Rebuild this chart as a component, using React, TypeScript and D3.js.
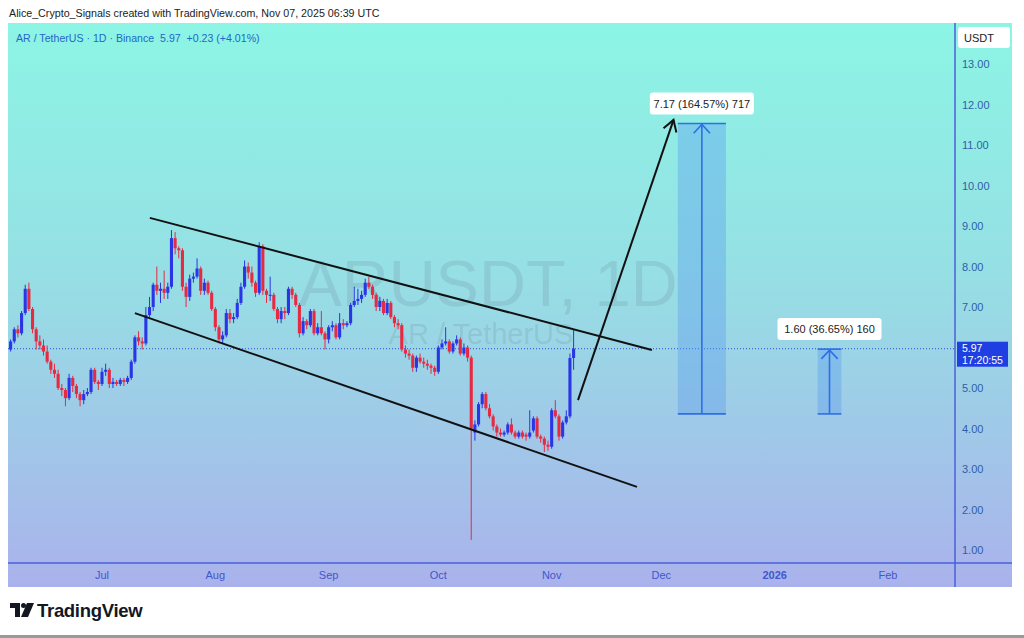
import React from 'react';
import * as d3 from 'd3';

// ---- data ----
const firstCandleDay = '2025-06-06';
// [open, high, low, close] daily, AR/USDT
const candles: [number, number, number, number][] = [
  [5.95,6.2,5.9,6.15],[6.15,6.5,6.1,6.45],[6.45,6.55,6.25,6.35],[6.35,6.9,6.3,6.85],[6.85,7.55,6.8,7.45],
  [7.45,7.6,6.9,6.95],[6.95,7.0,6.35,6.45],[6.45,6.5,5.95,6.15],[6.15,6.3,5.95,6.05],[6.05,6.2,5.8,5.9],
  [5.9,6.05,5.6,5.65],[5.65,5.7,5.35,5.45],[5.45,5.6,5.25,5.35],[5.35,5.45,4.95,5.0],[5.0,5.1,4.8,4.95],
  [4.95,5.0,4.55,4.75],[4.75,5.35,4.7,5.25],[5.25,5.3,4.9,5.05],[5.05,5.1,4.75,4.85],[4.85,4.9,4.55,4.7],
  [4.7,4.95,4.6,4.85],[4.85,5.0,4.8,4.9],[4.9,5.5,4.85,5.45],[5.45,5.5,5.1,5.15],[5.15,5.2,4.95,5.1],
  // Jul
  [5.1,5.5,5.05,5.4],[5.4,5.6,5.3,5.45],[5.45,5.5,5.0,5.1],[5.1,5.25,5.0,5.15],[5.15,5.2,5.05,5.1],
  [5.1,5.25,5.05,5.2],[5.2,5.25,5.05,5.15],[5.15,5.3,5.1,5.25],[5.25,5.7,5.2,5.65],[5.65,6.3,5.6,6.25],
  [6.25,6.4,6.05,6.15],[6.15,6.25,5.95,6.1],[6.1,7.0,6.05,6.8],[6.8,7.25,6.75,7.0],[7.0,7.6,6.9,7.55],
  [7.55,8.0,7.3,7.4],[7.4,7.6,7.1,7.45],[7.45,7.9,7.2,7.35],[7.35,7.6,7.2,7.5],[7.5,8.9,7.45,8.7],
  [8.7,8.85,8.3,8.45],[8.45,8.5,8.2,8.4],[8.4,8.45,7.4,7.5],[7.5,7.6,7.0,7.25],[7.25,7.8,7.15,7.7],
  [7.7,7.85,7.6,7.75],[7.75,8.2,7.7,7.95],[7.95,8.0,7.3,7.4],[7.4,7.7,7.3,7.6],[7.6,7.65,7.3,7.35],
  [7.35,7.4,6.9,6.95],
  // Aug
  [6.95,7.0,6.4,6.5],[6.5,6.55,6.1,6.2],[6.2,6.4,6.1,6.3],[6.3,6.95,6.25,6.85],[6.85,6.95,6.6,6.7],
  [6.7,6.85,6.6,6.75],[6.75,7.2,6.7,7.1],[7.1,7.6,7.05,7.5],[7.5,8.15,7.45,8.0],[8.0,8.1,7.7,7.85],
  [7.85,8.0,7.5,7.6],[7.6,7.65,7.25,7.35],[7.35,8.6,7.3,8.5],[8.5,8.55,7.3,7.4],[7.4,7.45,7.1,7.3],
  [7.3,7.75,7.15,7.3],[7.3,7.35,6.9,6.95],[6.95,7.0,6.6,6.7],[6.7,7.0,6.6,6.9],[6.9,7.0,6.7,6.85],
  [6.85,7.5,6.8,7.45],[7.45,7.5,7.2,7.3],[7.3,7.35,7.0,7.05],[7.05,7.1,6.25,6.35],[6.35,6.75,6.3,6.65],
  [6.65,6.7,6.45,6.55],[6.55,6.95,6.5,6.9],[6.9,6.95,6.3,6.35],[6.35,6.6,6.3,6.5],[6.5,6.9,6.3,6.35],
  [6.35,6.4,5.95,6.2],
  // Sep
  [6.2,6.55,6.1,6.5],[6.5,6.65,6.4,6.55],[6.55,6.6,6.2,6.25],[6.25,6.85,6.2,6.6],[6.6,6.7,6.45,6.55],
  [6.55,6.65,6.5,6.6],[6.6,7.1,6.55,7.05],[7.05,7.5,7.0,7.15],[7.15,7.45,7.05,7.2],[7.2,7.4,7.1,7.3],
  [7.3,7.7,7.25,7.6],[7.6,7.75,7.45,7.5],[7.5,7.55,7.2,7.3],[7.3,7.35,6.9,7.0],[7.0,7.25,6.9,7.15],
  [7.15,7.2,6.8,6.85],[6.85,7.2,6.8,7.1],[7.1,7.15,6.7,6.75],[6.75,6.8,6.5,6.6],[6.6,6.7,6.45,6.55],
  [6.55,6.6,5.9,5.95],[5.95,6.05,5.75,5.85],[5.85,5.95,5.7,5.8],[5.8,5.85,5.4,5.5],[5.5,5.8,5.4,5.75],
  [5.75,5.85,5.6,5.65],[5.65,5.75,5.5,5.6],[5.6,5.7,5.45,5.55],[5.55,5.6,5.35,5.5],[5.5,5.55,5.3,5.4],
  // Oct
  [5.4,6.05,5.35,6.0],[6.0,6.2,5.95,6.1],[6.1,6.5,6.05,6.15],[6.15,6.2,5.85,5.9],[5.9,6.15,5.85,6.1],
  [6.1,6.3,6.05,6.2],[6.2,6.25,5.8,5.85],[5.85,6.1,5.8,6.0],[6.0,6.05,5.65,5.75],[5.75,5.8,1.25,4.0],
  [3.9,4.2,3.7,4.1],[4.1,4.65,4.05,4.6],[4.6,4.9,4.5,4.85],[4.85,4.9,4.45,4.5],[4.5,4.6,4.25,4.3],
  [4.3,4.35,3.95,4.05],[4.05,4.1,3.8,3.9],[3.9,4.0,3.8,3.85],[3.85,3.95,3.8,3.9],[3.9,4.15,3.85,4.1],
  [4.1,4.25,3.85,3.9],[3.9,3.95,3.75,3.8],[3.8,3.95,3.75,3.9],[3.9,3.95,3.75,3.8],[3.85,3.9,3.7,3.8],
  [3.8,4.45,3.75,3.9],[3.95,4.3,3.9,4.25],[4.25,4.3,3.75,3.8],[3.8,3.85,3.65,3.75],[3.75,3.8,3.42,3.6],
  [3.6,3.7,3.45,3.55],
  // Nov
  [3.55,4.5,3.5,4.45],[4.45,4.7,4.25,4.3],[4.3,4.35,3.7,3.8],[3.8,4.2,3.75,4.15],[4.15,4.45,4.1,4.3],
  [4.3,5.85,4.25,5.74],[5.74,6.45,5.45,5.97],
];

const lastPrice = 5.97;
const priceTicks = [1, 2, 3, 4, 5, 7, 8, 9, 10, 11, 12, 13];
const timeTicks: { label: string; date: string; bold?: boolean }[] = [
  { label: 'Jul', date: '2025-07-01' },
  { label: 'Aug', date: '2025-08-01' },
  { label: 'Sep', date: '2025-09-01' },
  { label: 'Oct', date: '2025-10-01' },
  { label: 'Nov', date: '2025-11-01' },
  { label: 'Dec', date: '2025-12-01' },
  { label: '2026', date: '2026-01-01', bold: true },
  { label: 'Feb', date: '2026-02-01' },
];
const channelUpper = [{ date: '2025-07-14T02:00Z', price: 9.2 }, { date: '2025-11-28T10:00Z', price: 5.94 }];
const channelLower = [{ date: '2025-07-10T00:00Z', price: 6.85 }, { date: '2025-11-24T08:00Z', price: 2.56 }];
const projection = [{ date: '2025-11-08T05:00Z', price: 4.7 }, { date: '2025-12-04T08:00Z', price: 11.62 }];
const measures = [
  { from: '2025-12-05T12:00Z', to: '2025-12-18T16:00Z', base: 4.36, gain: 7.17, label: '7.17 (164.57%) 717' },
  { from: '2026-01-12T18:00Z', to: '2026-01-19T06:00Z', base: 4.36, gain: 1.60, label: '1.60 (36.65%) 160' },
];

const W = 1024, H = 638;
const UP = '#2a36e6';
const DOWN = '#e62a42';
const AXIS = '#4b5fd9';
const FONT = '"Liberation Sans", Arial, Helvetica, sans-serif';

export default function App() {
  const left = 8, right = 1012, top = 23, axisX = 955, axisY = 563, bottom = 587;
  const x = d3.scaleUtc()
    .domain([new Date('2025-07-01T00:00Z'), new Date('2026-02-01T00:00Z')])
    .range([102, 888]);
  const y = d3.scaleLinear().domain([1, 13]).range([550, 64]);
  const start = new Date(firstCandleDay + 'T00:00Z');
  const bw = 3.1;

  const line = d3.line<{ date: string; price: number }>()
    .x(d => x(new Date(d.date)))
    .y(d => y(d.price));

  const chevron = (tx: number, ty: number, dx: number, dy: number, len: number, spread: number) => {
    const ang = Math.atan2(dy, dx);
    const a1 = ang + Math.PI - spread, a2 = ang + Math.PI + spread;
    return `M${tx + len * Math.cos(a1)},${ty + len * Math.sin(a1)}L${tx},${ty}L${tx + len * Math.cos(a2)},${ty + len * Math.sin(a2)}`;
  };

  const p0 = projection[0], p1 = projection[1];
  const ax0 = x(new Date(p0.date)), ay0 = y(p0.price), ax1 = x(new Date(p1.date)), ay1 = y(p1.price);

  return (
    <svg width={W} height={H} style={{ position: 'absolute', left: 0, top: 0, fontFamily: FONT }}>
      <defs>
        <linearGradient id="bg" x1="0" y1="0" x2="0" y2="1">
          <stop offset="0%" stopColor="#8cf5e4" />
          <stop offset="45%" stopColor="#96dfe4" />
          <stop offset="100%" stopColor="#aab2ec" />
        </linearGradient>
        <clipPath id="plot"><rect x={left} y={top} width={axisX - left} height={axisY - top} /></clipPath>
      </defs>
      <rect x={0} y={0} width={W} height={H} fill="#ffffff" />
      <rect x={left} y={top} width={right - left} height={bottom - top} fill="url(#bg)" />
      <text x={9} y={17} fontSize={10.7} fill="#222">Alice_Crypto_Signals created with TradingView.com, Nov 07, 2025 06:39 UTC</text>

      {/* watermark */}
      <text x={488} y={306} fontSize={65} textAnchor="middle" fill="#6f8a9a" fillOpacity={0.22}>ARUSDT, 1D</text>
      <text x={481} y={344} fontSize={29} textAnchor="middle" fill="#6f8a9a" fillOpacity={0.22}>AR / TetherUS</text>

      <text x={16} y={42} fontSize={10.6} fill="#2566c8" style={{ whiteSpace: 'pre' }}>{'AR / TetherUS · 1D · Binance  5.97  +0.23 (+4.01%)'}</text>

      {/* last price line */}
      <line x1={left} x2={axisX} y1={y(lastPrice)} y2={y(lastPrice)} stroke="#2f4fd6" strokeWidth={1} strokeDasharray="1,2" />

      <g clipPath="url(#plot)">
        {candles.map((c, i) => {
          const [o, h, l, cl] = c;
          const cx = x(d3.utcDay.offset(start, i));
          const col = cl >= o ? UP : DOWN;
          const yt = y(Math.max(o, cl)), yb = y(Math.min(o, cl));
          return (
            <g key={i}>
              <line x1={cx} x2={cx} y1={y(h)} y2={y(l)} stroke={col} strokeWidth={1} />
              <rect x={cx - bw / 2} y={yt} width={bw} height={Math.max(1, yb - yt)} fill={col} />
            </g>
          );
        })}

        {/* channel */}
        <path d={line(channelUpper) || ''} stroke="#111" strokeWidth={2} fill="none" />
        <path d={line(channelLower) || ''} stroke="#111" strokeWidth={2} fill="none" />
        {/* projection arrow */}
        <path d={line(projection) || ''} stroke="#111" strokeWidth={2} fill="none" />
        <path d={chevron(ax1, ay1, ax1 - ax0, ay1 - ay0, 13, 0.55)} stroke="#111" strokeWidth={2} fill="none" />

        {/* measures */}
        {measures.map((m, i) => {
          const x0 = x(new Date(m.from)), x1 = x(new Date(m.to));
          const yb = y(m.base), yt = y(m.base + m.gain);
          const xm = (x0 + x1) / 2;
          return (
            <g key={i}>
              <rect x={x0} y={yt} width={x1 - x0} height={yb - yt} fill="#5a9af0" fillOpacity={0.38} />
              <line x1={x0} x2={x1} y1={yt} y2={yt} stroke="#2e6fe6" strokeWidth={1.6} />
              <line x1={x0} x2={x1} y1={yb} y2={yb} stroke="#2e6fe6" strokeWidth={1.6} />
              <line x1={xm} x2={xm} y1={yb} y2={yt} stroke="#2e6fe6" strokeWidth={1.6} />
              <path d={chevron(xm, yt + 1, 0, -1, 12, 0.75)} stroke="#2e6fe6" strokeWidth={1.6} fill="none" />
            </g>
          );
        })}
      </g>

      {measures.map((m, i) => {
        const x0 = x(new Date(m.from)), x1 = x(new Date(m.to));
        const xm = (x0 + x1) / 2;
        const yt = y(m.base + m.gain);
        const bwid = 104, bh = 22;
        return (
          <g key={'l' + i}>
            <rect x={xm - bwid / 2} y={yt - bh - 9} width={bwid} height={bh} rx={3} fill="#ffffff" />
            <text x={xm} y={yt - 9 - 7} fontSize={11} textAnchor="middle" fill="#222">{m.label}</text>
          </g>
        );
      })}

      {/* axes lines */}
      <line x1={axisX} x2={axisX} y1={top} y2={bottom} stroke={AXIS} strokeWidth={1.5} />
      <line x1={left} x2={right} y1={axisY} y2={axisY} stroke={AXIS} strokeWidth={1.5} />

      {priceTicks.map(t => (
        <text key={t} x={962} y={y(t) + 4} fontSize={11} fill="#2f5ea8">{t.toFixed(2)}</text>
      ))}
      {timeTicks.map(t => (
        <text key={t.label} x={x(new Date(t.date + 'T00:00Z'))} y={579} fontSize={11} textAnchor="middle"
          fill="#4257cc" fontWeight={t.bold ? 'bold' : 'normal'}>{t.label}</text>
      ))}

      {/* USDT box */}
      <rect x={958} y={27} width={52} height={21} rx={3} fill="#ffffff" />
      <text x={964} y={42} fontSize={11} fill="#222">USDT</text>

      {/* price label */}
      <rect x={957} y={y(lastPrice) - 7} width={51} height={25} fill="#1f3fe2" />
      <text x={962} y={y(lastPrice) + 3} fontSize={10.5} fill="#ffffff">{lastPrice.toFixed(2)}</text>
      <text x={962} y={y(lastPrice) + 15} fontSize={10.5} fill="#ffffff">17:20:55</text>

      {/* TradingView logo */}
      <g transform="translate(10,603)">
        <path d="M0,0H10V14H5V5H0Z" fill="#131722" />
        <circle cx={13.5} cy={2.5} r={2.5} fill="#131722" />
        <path d="M17,0H24L18,14H11Z" fill="#131722" />
        <text x={27} y={14} fontSize={18.5} fontWeight={600} fill="#131722" letterSpacing={-0.3}>TradingView</text>
      </g>
      <rect x={0} y={635} width={W} height={3} fill="#9a9a9a" />
    </svg>
  );
}
